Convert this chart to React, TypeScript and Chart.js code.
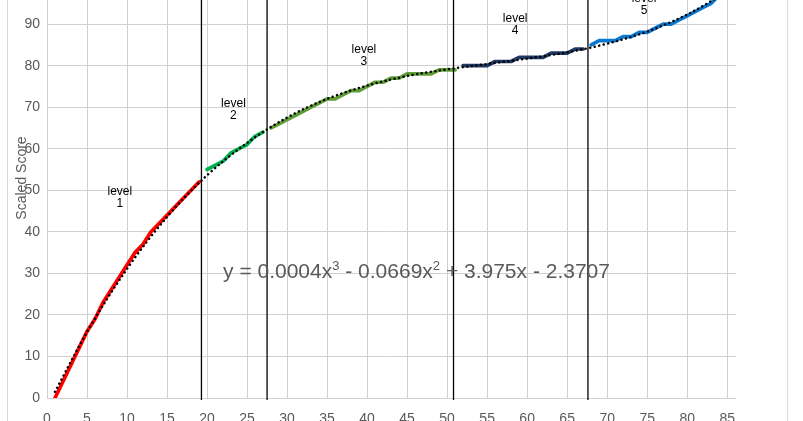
import { useEffect, useRef } from 'react'
import Chart from 'chart.js/auto'

// raw score (x) and scaled score (y), one pair of arrays per level
const level1Raw = [1, 2, 3, 4, 5, 6, 7, 8, 9, 10, 11, 12, 13, 14, 15, 16, 17, 18, 19]
const level1Scaled = [0, 4, 8, 12, 16, 19, 23, 26, 29, 32, 35, 37, 40, 42, 44, 46, 48, 50, 52]
const level2Raw = [20, 21, 22, 23, 24, 25, 26, 27]
const level2Scaled = [55, 56, 57, 59, 60, 61, 63, 64]
const level3Raw = [28, 29, 30, 31, 32, 33, 34, 35, 36, 37, 38, 39, 40, 41, 42, 43, 44, 45, 46, 47, 48, 49, 50, 51]
const level3Scaled = [65, 66, 67, 68, 69, 70, 71, 72, 72, 73, 74, 74, 75, 76, 76, 77, 77, 78, 78, 78, 78, 79, 79, 79]
const level4Raw = [52, 53, 54, 55, 56, 57, 58, 59, 60, 61, 62, 63, 64, 65, 66, 67]
const level4Scaled = [80, 80, 80, 80, 81, 81, 81, 82, 82, 82, 82, 83, 83, 83, 84, 84]
const level5Raw = [68, 69, 70, 71, 72, 73, 74, 75, 76, 77, 78, 79, 80, 81, 82, 83, 84, 85]
const level5Scaled = [85, 86, 86, 86, 87, 87, 88, 88, 89, 90, 90, 91, 92, 93, 94, 95, 97, 98]

// polynomial trendline
const trendRaw = [1, 5, 10, 15, 20, 25, 30, 35, 40, 45, 50, 55, 60, 65, 70, 75, 80, 85]
const trendScaled = [1.5, 15.9, 31.1, 43.6, 53.6, 61.4, 67.5, 72.0, 75.2, 77.5, 79.1, 80.4, 81.7, 83.2, 85.3, 88.2, 92.3, 97.8]

const levelNames = ['1', '2', '3', '4', '5']
const levelBoundaries = [19.3, 27.5, 50.8, 67.6]
const levelColors = ['#ff0000', '#00b050', '#5f9e35', '#1f3864', '#0a78cf']

// where the level captions sit (data units)
const levelLabelAt = [
  [9.1, 49.7],
  [23.3, 70.9],
  [39.6, 83.9],
  [58.5, 91.2],
  [74.6, 96.2],
]

const equationParts: [string, boolean][] = [
  ['y = 0.0004x', false],
  ['3', true],
  [' - 0.0669x', false],
  ['2', true],
  [' + 3.975x - 2.3707', false],
]

const GREY = '#595959'
const GRID = '#d0d0d0'
const FONT = '"Liberation Sans", Arial, sans-serif'

const points = (xs: number[], ys: number[]) => xs.map((x, i) => ({ x, y: ys[i] }))

const overlay = {
  id: 'overlay',
  afterDatasetsDraw(chart: any) {
    const { ctx, chartArea, scales } = chart
    const x = scales.x
    const y = scales.y
    ctx.save()

    // level boundaries
    ctx.strokeStyle = '#000'
    ctx.lineWidth = 1.3
    levelBoundaries.forEach((v) => {
      const px = x.getPixelForValue(v)
      ctx.beginPath()
      ctx.moveTo(px, 0)
      ctx.lineTo(px, chartArea.bottom + 2)
      ctx.stroke()
    })

    // level captions
    ctx.font = `12px ${FONT}`
    ctx.fillStyle = '#000'
    ctx.textAlign = 'center'
    ctx.textBaseline = 'middle'
    levelLabelAt.forEach(([lx, ly], i) => {
      const px = x.getPixelForValue(lx)
      const py = y.getPixelForValue(ly)
      ctx.fillText('level', px, py)
      ctx.fillText(levelNames[i], px, py + 12)
    })

    // trendline equation
    ctx.fillStyle = GREY
    ctx.textAlign = 'left'
    ctx.textBaseline = 'alphabetic'
    let ex = x.getPixelForValue(22)
    const ey = y.getPixelForValue(28.9)
    equationParts.forEach(([t, sup]) => {
      ctx.font = sup ? `13px ${FONT}` : `21px ${FONT}`
      ctx.fillText(t, ex, sup ? ey - 8 : ey)
      ex += ctx.measureText(t).width
    })

    // y axis title
    ctx.font = `14px ${FONT}`
    ctx.textAlign = 'center'
    ctx.textBaseline = 'middle'
    ctx.translate(chartArea.left - 25, chartArea.top + 178)
    ctx.rotate(-Math.PI / 2)
    ctx.fillText('Scaled Score', 0, 0)

    ctx.restore()
  },
}

export default function App() {
  const chartRef = useRef<HTMLCanvasElement>(null)
  const chartInstance = useRef<Chart | null>(null)

  useEffect(() => {
    if (!chartRef.current) return
    const ctx = chartRef.current.getContext('2d')
    if (!ctx) return

    if (chartInstance.current) {
      chartInstance.current.destroy()
    }

    const levelSets = [
      [level1Raw, level1Scaled],
      [level2Raw, level2Scaled],
      [level3Raw, level3Scaled],
      [level4Raw, level4Scaled],
      [level5Raw, level5Scaled],
    ].map(([xs, ys], i) => ({
      label: 'level ' + levelNames[i],
      data: points(xs, ys),
      borderColor: levelColors[i],
      borderWidth: 3.7,
      borderJoinStyle: 'round' as const,
      borderCapStyle: 'round' as const,
      pointRadius: 0,
      tension: 0,
    }))

    chartInstance.current = new Chart(ctx, {
      type: 'line',
      data: {
        datasets: [
          {
            label: 'trend',
            data: points(trendRaw, trendScaled),
            borderColor: '#000',
            borderWidth: 2.5,
            borderDash: [0.01, 4.6],
            borderCapStyle: 'round',
            cubicInterpolationMode: 'monotone',
            pointRadius: 0,
          },
          ...levelSets,
        ],
      },
      options: {
        responsive: true,
        maintainAspectRatio: false,
        animation: false,
        events: [],
        layout: { padding: { top: 0, left: 0, right: 51, bottom: 0 } },
        plugins: { legend: { display: false }, tooltip: { enabled: false } },
        scales: {
          x: {
            type: 'linear',
            min: 0,
            max: 86.1,
            ticks: {
              stepSize: 5,
              includeBounds: false,
              padding: 13,
              color: GREY,
              font: { size: 14, family: FONT },
            },
            grid: { color: GRID, drawTicks: false },
            border: { display: false },
            afterBuildTicks: (s: any) => {
              s.ticks = s.ticks.filter((t: any) => t.value % 5 === 0)
            },
            afterFit: (s: any) => {
              s.height = 30
              s.paddingLeft = 0
              s.paddingRight = 0
            },
          },
          y: {
            min: 0,
            max: 95.8,
            ticks: {
              stepSize: 10,
              includeBounds: false,
              padding: 7,
              color: GREY,
              font: { size: 14, family: FONT },
            },
            grid: { color: GRID, drawTicks: false },
            border: { display: false },
            afterBuildTicks: (s: any) => {
              s.ticks = s.ticks.filter((t: any) => t.value % 10 === 0)
            },
            afterFit: (s: any) => {
              s.width = 39
              s.paddingTop = 0
              s.paddingBottom = 0
            },
          },
        },
      },
      plugins: [overlay],
    })

    return () => {
      if (chartInstance.current) {
        chartInstance.current.destroy()
        chartInstance.current = null
      }
    }
  }, [])

  return (
    <div
      style={{
        position: 'fixed',
        left: 7,
        top: 0,
        width: 779,
        height: 428,
        borderLeft: '1px solid #d9d9d9',
        borderRight: '1px solid #d9d9d9',
        background: '#fff',
      }}
    >
      <div style={{ position: 'relative', width: 779, height: 428 }}>
        <canvas ref={chartRef} />
      </div>
    </div>
  )
}
